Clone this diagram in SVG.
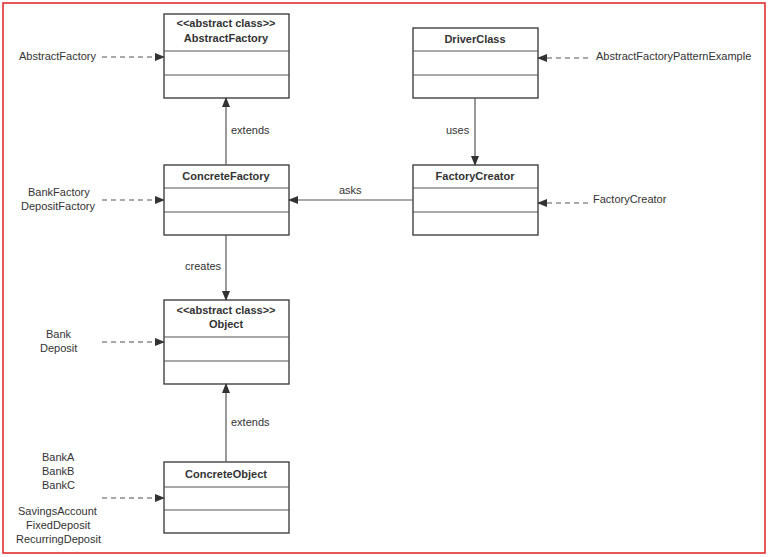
<svg xmlns="http://www.w3.org/2000/svg" width="768" height="557" viewBox="0 0 768 557">
<defs>
<style>
.b{fill:#fff;stroke:#333;stroke-width:1.3}
.t{font-family:"Liberation Sans",Arial,sans-serif;font-size:11px;fill:#333}
.h{font-weight:bold;text-anchor:middle}
.c{stroke:#555;stroke-width:1.2;fill:none}
.d{stroke-dasharray:5,4}
</style>
<marker id="a" markerWidth="10" markerHeight="8" refX="9" refY="4" orient="auto" markerUnits="userSpaceOnUse"><path d="M0,0L10,4L0,8z" fill="#333"/></marker>
</defs>
<rect x="3" y="3" width="762" height="550" fill="#fff" stroke="#e02020" stroke-width="1.5"/>
<g id="n1"><rect class="b" x="164" y="14" width="125" height="84"/><path class="c" d="M164 51H289M164 75H289"/><text class="t h" x="226" y="27">&lt;&lt;abstract class&gt;&gt;</text><text class="t h" x="226" y="42">AbstractFactory</text></g>
<g id="n2"><rect class="b" x="413" y="28" width="125" height="70"/><path class="c" d="M413 51H538M413 75H538"/><text class="t h" x="475" y="43">DriverClass</text></g>
<g id="n3"><rect class="b" x="164" y="165" width="125" height="70"/><path class="c" d="M164 188H289M164 212H289"/><text class="t h" x="226" y="180">ConcreteFactory</text></g>
<g id="n4"><rect class="b" x="413" y="165" width="125" height="70"/><path class="c" d="M413 188H538M413 212H538"/><text class="t h" x="475" y="180">FactoryCreator</text></g>
<g id="n5"><rect class="b" x="164" y="300" width="125" height="84"/><path class="c" d="M164 337H289M164 361H289"/><text class="t h" x="226" y="314">&lt;&lt;abstract class&gt;&gt;</text><text class="t h" x="226" y="328">Object</text></g>
<g id="n6"><rect class="b" x="164" y="462" width="125" height="71"/><path class="c" d="M164 487H289M164 510H289"/><text class="t h" x="226" y="478">ConcreteObject</text></g>
<g id="labels" class="t">
<text x="19" y="60">AbstractFactory</text>
<text x="596" y="60">AbstractFactoryPatternExample</text>
<text x="28" y="196">BankFactory</text><text x="21" y="210">DepositFactory</text>
<text x="593" y="203">FactoryCreator</text>
<text x="46" y="338">Bank</text><text x="40" y="352">Deposit</text>
<text x="42" y="461">BankA</text><text x="42" y="475">BankB</text><text x="42" y="489">BankC</text>
<text x="18" y="515">SavingsAccount</text><text x="26" y="529">FixedDeposit</text><text x="16" y="543">RecurringDeposit</text>
<text x="231" y="134">extends</text><text x="446" y="134">uses</text><text x="339" y="194">asks</text><text x="185" y="270">creates</text><text x="231" y="426">extends</text>
</g>
<g id="connectors">
<path class="c" d="M226 165V98" marker-end="url(#a)"/>
<path class="c" d="M475 98V165" marker-end="url(#a)"/>
<path class="c" d="M413 200H289" marker-end="url(#a)"/>
<path class="c" d="M226 235V300" marker-end="url(#a)"/>
<path class="c" d="M226 462V384" marker-end="url(#a)"/>
<path class="c d" d="M102 57H164" marker-end="url(#a)"/>
<path class="c d" d="M588 58H538" marker-end="url(#a)"/>
<path class="c d" d="M102 200H164" marker-end="url(#a)"/>
<path class="c d" d="M588 203H538" marker-end="url(#a)"/>
<path class="c d" d="M102 342H164" marker-end="url(#a)"/>
<path class="c d" d="M102 498H164" marker-end="url(#a)"/>
</g>
</svg>
